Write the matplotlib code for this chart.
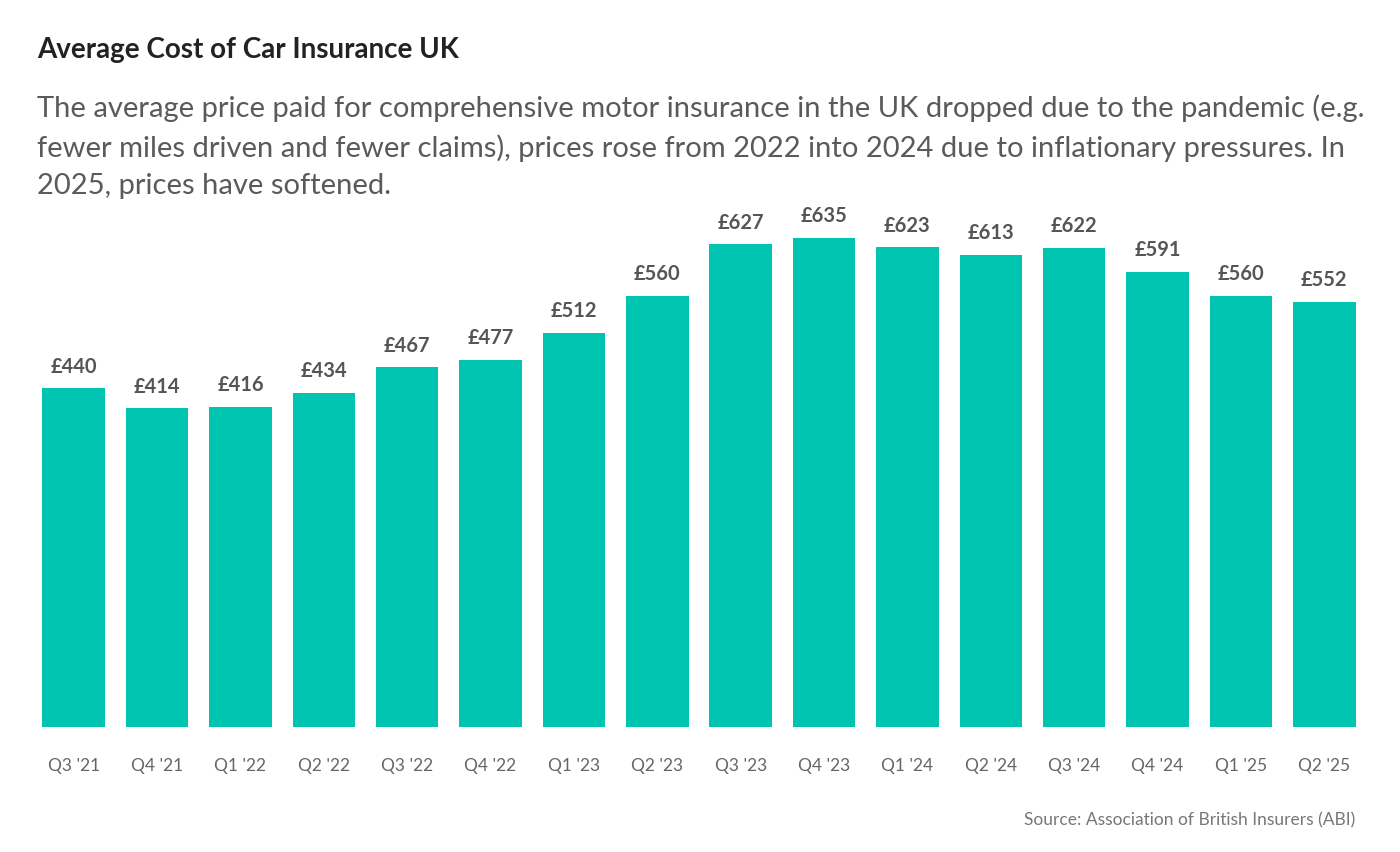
import numpy as np
import matplotlib.pyplot as plt

plt.rcParams['font.family'] = ['Lato', 'DejaVu Sans']

quarters = ["Q3 '21", "Q4 '21", "Q1 '22", "Q2 '22", "Q3 '22", "Q4 '22", "Q1 '23", "Q2 '23",
            "Q3 '23", "Q4 '23", "Q1 '24", "Q2 '24", "Q3 '24", "Q4 '24", "Q1 '25", "Q2 '25"]
premium = [440, 414, 416, 434, 467, 477, 512, 560, 627, 635, 623, 613, 622, 591, 560, 552]

title = "Average Cost of Car Insurance UK"
subtitle = ("The average price paid for comprehensive motor insurance in the UK dropped due to the pandemic (e.g.\n"
            "fewer miles driven and fewer claims), prices rose from 2022 into 2024 due to inflationary pressures. In\n"
            "2025, prices have softened.")
source = "Source: Association of British Insurers (ABI)"

W, H = 1400, 852
fig = plt.figure(figsize=(14, 8.52), dpi=100)
fig.patch.set_facecolor('white')

ax = fig.add_axes([32 / W, (H - 727) / H, 1334 / W, (727 - 200) / H])
x = np.arange(len(quarters))
bars = ax.bar(x, premium, width=0.75, color='#00c4b0')
ax.set_xlim(-0.5, len(quarters) - 0.5)
ax.set_ylim(0, 527 * 635 / 489)

for xi, v in zip(x, premium):
    ax.text(xi, v + 15, f"£{v}", ha='center', va='bottom', fontsize=14.5,
            fontweight='bold', color='#555555')

ax.set_xticks(x)
ax.set_xticklabels(quarters, fontsize=12.5, color='#666666')
ax.tick_params(axis='x', length=0, pad=22)
ax.set_yticks([])
for s in ax.spines.values():
    s.set_visible(False)

fig.text(37 / W, 1 - 50 / H, title, fontsize=20, fontweight='bold', color='#222222',
         va='center', ha='left')
fig.text(37 / W, 1 - 94 / H, subtitle, fontsize=21, color='#5a5a5a', va='top', ha='left',
         linespacing=1.55)
fig.text(1355 / W, 1 - 820 / H, source, fontsize=12.5, color='#777777', va='center', ha='right')

fig.savefig('out.png', dpi=100, facecolor='white')
